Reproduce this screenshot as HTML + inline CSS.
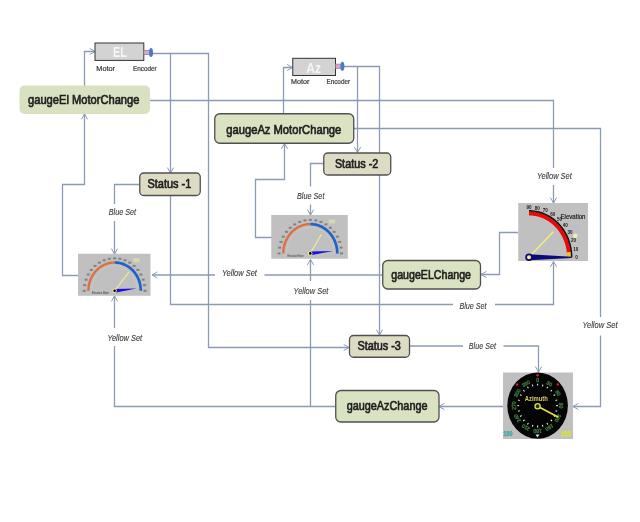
<!DOCTYPE html><html><head><meta charset="utf-8"><style>html,body{margin:0;padding:0;background:#fff;width:640px;height:522px;overflow:hidden}svg{display:block;will-change:transform;font-family:"Liberation Sans",sans-serif}</style></head><body>
<svg width="640" height="522" viewBox="0 0 640 522">
<path d="M151,53.5 L208.5,53.5 L208.5,347.5 L349,347.5" fill="none" stroke="#8a9bb5" stroke-width="1.3"/>
<path d="M343.63,350.60 L349,347.5 L343.63,344.40" fill="none" stroke="#8a9bb5" stroke-width="1"/>
<path d="M170.5,53.5 L170.5,173" fill="none" stroke="#8a9bb5" stroke-width="1.3"/>
<path d="M167.40,167.63 L170.5,173 L173.60,167.63" fill="none" stroke="#8a9bb5" stroke-width="1"/>
<path d="M170.5,196 L170.5,304.5 L553.5,304.5 L553.5,261.5" fill="none" stroke="#8a9bb5" stroke-width="1.3"/>
<path d="M556.60,266.87 L553.5,261.5 L550.40,266.87" fill="none" stroke="#8a9bb5" stroke-width="1"/>
<path d="M139,184.5 L114.5,184.5 L114.5,254" fill="none" stroke="#8a9bb5" stroke-width="1.3"/>
<path d="M111.40,248.63 L114.5,254 L117.60,248.63" fill="none" stroke="#8a9bb5" stroke-width="1"/>
<path d="M78,275.5 L62.5,275.5 L62.5,184.5 L84.5,184.5 L84.5,114" fill="none" stroke="#8a9bb5" stroke-width="1.3"/>
<path d="M87.60,119.37 L84.5,114 L81.40,119.37" fill="none" stroke="#8a9bb5" stroke-width="1"/>
<path d="M84.5,86 L84.5,51.5 L95,51.5" fill="none" stroke="#8a9bb5" stroke-width="1.3"/>
<path d="M89.63,54.60 L95,51.5 L89.63,48.40" fill="none" stroke="#8a9bb5" stroke-width="1"/>
<path d="M150,100.5 L553.5,100.5 L553.5,203" fill="none" stroke="#8a9bb5" stroke-width="1.3"/>
<path d="M550.40,197.63 L553.5,203 L556.60,197.63" fill="none" stroke="#8a9bb5" stroke-width="1"/>
<path d="M343,66.5 L379.5,66.5 L379.5,335" fill="none" stroke="#8a9bb5" stroke-width="1.3"/>
<path d="M376.40,329.63 L379.5,335 L382.60,329.63" fill="none" stroke="#8a9bb5" stroke-width="1"/>
<path d="M357.5,66.5 L357.5,152.5" fill="none" stroke="#8a9bb5" stroke-width="1.3"/>
<path d="M354.40,147.13 L357.5,152.5 L360.60,147.13" fill="none" stroke="#8a9bb5" stroke-width="1"/>
<path d="M283.5,114 L283.5,67.5 L292.5,67.5" fill="none" stroke="#8a9bb5" stroke-width="1.3"/>
<path d="M287.13,70.60 L292.5,67.5 L287.13,64.40" fill="none" stroke="#8a9bb5" stroke-width="1"/>
<path d="M354,128.5 L600.5,128.5 L600.5,406.5 L573,406.5" fill="none" stroke="#8a9bb5" stroke-width="1.3"/>
<path d="M578.37,403.40 L573,406.5 L578.37,409.60" fill="none" stroke="#8a9bb5" stroke-width="1"/>
<path d="M324,163.5 L310.5,163.5 L310.5,215" fill="none" stroke="#8a9bb5" stroke-width="1.3"/>
<path d="M307.40,209.63 L310.5,215 L313.60,209.63" fill="none" stroke="#8a9bb5" stroke-width="1"/>
<path d="M272,237.5 L255.5,237.5 L255.5,179.5 L284.5,179.5 L284.5,143.5" fill="none" stroke="#8a9bb5" stroke-width="1.3"/>
<path d="M287.60,148.87 L284.5,143.5 L281.40,148.87" fill="none" stroke="#8a9bb5" stroke-width="1"/>
<path d="M383,275 L152,275" fill="none" stroke="#8a9bb5" stroke-width="1.3"/>
<path d="M157.37,271.90 L152,275 L157.37,278.10" fill="none" stroke="#8a9bb5" stroke-width="1"/>
<path d="M518,232.5 L499.5,232.5 L499.5,274.5 L481,274.5" fill="none" stroke="#8a9bb5" stroke-width="1.3"/>
<path d="M486.37,271.40 L481,274.5 L486.37,277.60" fill="none" stroke="#8a9bb5" stroke-width="1"/>
<path d="M409.5,346 L538.5,346 L538.5,372" fill="none" stroke="#8a9bb5" stroke-width="1.3"/>
<path d="M535.40,366.63 L538.5,372 L541.60,366.63" fill="none" stroke="#8a9bb5" stroke-width="1"/>
<path d="M503,406.5 L439,406.5" fill="none" stroke="#8a9bb5" stroke-width="1.3"/>
<path d="M444.37,403.40 L439,406.5 L444.37,409.60" fill="none" stroke="#8a9bb5" stroke-width="1"/>
<path d="M335.5,406.5 L114.5,406.5 L114.5,296" fill="none" stroke="#8a9bb5" stroke-width="1.3"/>
<path d="M117.60,301.37 L114.5,296 L111.40,301.37" fill="none" stroke="#8a9bb5" stroke-width="1"/>
<path d="M310.5,406.5 L310.5,259.5" fill="none" stroke="#8a9bb5" stroke-width="1.3"/>
<path d="M313.60,264.87 L310.5,259.5 L307.40,264.87" fill="none" stroke="#8a9bb5" stroke-width="1"/>
<rect x="19.5" y="85.5" width="130.5" height="28.5" rx="5" fill="#d8e1c1"/>
<text x="28" y="103.8" font-size="12.3" fill="#1e1e1e" stroke="#1e1e1e" stroke-width="0.65" textLength="111.4" lengthAdjust="spacingAndGlyphs">gaugeEl MotorChange</text>
<rect x="214.75" y="113.75" width="139" height="29.5" rx="5" fill="#d9e2c1" stroke="#505050" stroke-width="1.3"/>
<text x="226.3" y="133.6" font-size="12.3" fill="#1e1e1e" stroke="#1e1e1e" stroke-width="0.65" textLength="115" lengthAdjust="spacingAndGlyphs">gaugeAz MotorChange</text>
<rect x="139.75" y="173" width="60.5" height="22.5" rx="4" fill="#dedbc5" stroke="#505050" stroke-width="1.3"/>
<text x="147.5" y="188" font-size="12.3" fill="#1e1e1e" stroke="#1e1e1e" stroke-width="0.65" textLength="43.8" lengthAdjust="spacingAndGlyphs">Status -1</text>
<rect x="323.75" y="153" width="67" height="22" rx="4" fill="#dedbc5" stroke="#505050" stroke-width="1.3"/>
<text x="334.9" y="167.8" font-size="12.3" fill="#1e1e1e" stroke="#1e1e1e" stroke-width="0.65" textLength="43.4" lengthAdjust="spacingAndGlyphs">Status -2</text>
<rect x="349.5" y="335.5" width="60" height="21.75" rx="4" fill="#dedbc5" stroke="#505050" stroke-width="1.3"/>
<text x="357.5" y="350" font-size="12.3" fill="#1e1e1e" stroke="#1e1e1e" stroke-width="0.65" textLength="43.4" lengthAdjust="spacingAndGlyphs">Status -3</text>
<rect x="382.75" y="260.5" width="97.75" height="28.5" rx="5" fill="#d9e2c1" stroke="#505050" stroke-width="1.3"/>
<text x="391.3" y="278.6" font-size="12.3" fill="#1e1e1e" stroke="#1e1e1e" stroke-width="0.65" textLength="79.7" lengthAdjust="spacingAndGlyphs">gaugeELChange</text>
<rect x="335.75" y="390.5" width="103.25" height="31.5" rx="5" fill="#d9e2c1" stroke="#505050" stroke-width="1.3"/>
<text x="346.7" y="410.3" font-size="12.3" fill="#1e1e1e" stroke="#1e1e1e" stroke-width="0.65" textLength="80.8" lengthAdjust="spacingAndGlyphs">gaugeAzChange</text>
<rect x="95" y="43" width="48.8" height="17.4" fill="#d3d3d3" stroke="#333" stroke-width="1"/>
<text x="113" y="56.8" font-size="14" font-weight="bold" fill="#f6f6f6" textLength="13.7" lengthAdjust="spacingAndGlyphs">EL</text>
<rect x="143.8" y="50.3" width="7.200000000000003" height="4.4" fill="#d8a8c4" stroke="#8a6a9a" stroke-width="0.6"/>
<ellipse cx="151" cy="52.5" rx="2" ry="4.6" fill="#4a7cc4"/>
<text x="96.3" y="70.8" font-size="6.5" fill="#3a3a3a" stroke="#3a3a3a" stroke-width="0.2" textLength="18.7" lengthAdjust="spacingAndGlyphs">Motor</text>
<text x="132.9" y="70.8" font-size="6.5" fill="#3a3a3a" stroke="#3a3a3a" stroke-width="0.2" textLength="23.8" lengthAdjust="spacingAndGlyphs">Encoder</text>
<rect x="292.75" y="58.3" width="42.75" height="17.2" fill="#d3d3d3" stroke="#333" stroke-width="1"/>
<text x="306.3" y="72.6" font-size="14" font-weight="bold" fill="#f6f6f6" textLength="14.8" lengthAdjust="spacingAndGlyphs">Az</text>
<rect x="335.5" y="64.1" width="6.899999999999977" height="4.4" fill="#d8a8c4" stroke="#8a6a9a" stroke-width="0.6"/>
<ellipse cx="342.4" cy="66.3" rx="2" ry="4.6" fill="#4a7cc4"/>
<text x="291" y="83.7" font-size="6.5" fill="#3a3a3a" stroke="#3a3a3a" stroke-width="0.2" textLength="18.3" lengthAdjust="spacingAndGlyphs">Motor</text>
<text x="326.4" y="83.7" font-size="6.5" fill="#3a3a3a" stroke="#3a3a3a" stroke-width="0.2" textLength="23.7" lengthAdjust="spacingAndGlyphs">Encoder</text>
<rect x="78" y="253.75" width="72.5" height="42.0" fill="#c0c0c0"/>
<rect x="82.70" y="289.80" width="3" height="2" fill="#6e6e6e" opacity="0.75"/>
<rect x="83.16" y="284.16" width="3" height="2" fill="#6e6e6e" opacity="0.75"/>
<rect x="84.53" y="278.68" width="3" height="2" fill="#6e6e6e" opacity="0.75"/>
<rect x="86.77" y="273.55" width="3" height="2" fill="#6e6e6e" opacity="0.75"/>
<rect x="89.81" y="268.91" width="3" height="2" fill="#6e6e6e" opacity="0.75"/>
<rect x="93.56" y="264.90" width="3" height="2" fill="#6e6e6e" opacity="0.75"/>
<rect x="97.90" y="261.65" width="3" height="2" fill="#6e6e6e" opacity="0.75"/>
<rect x="102.70" y="259.26" width="3" height="2" fill="#6e6e6e" opacity="0.75"/>
<rect x="107.82" y="257.79" width="3" height="2" fill="#6e6e6e" opacity="0.75"/>
<rect x="113.10" y="257.30" width="3" height="2" fill="#6e6e6e" opacity="0.75"/>
<rect x="118.38" y="257.79" width="3" height="2" fill="#6e6e6e" opacity="0.75"/>
<rect x="123.50" y="259.26" width="3" height="2" fill="#6e6e6e" opacity="0.75"/>
<rect x="128.30" y="261.65" width="3" height="2" fill="#6e6e6e" opacity="0.75"/>
<rect x="132.64" y="264.90" width="3" height="2" fill="#6e6e6e" opacity="0.75"/>
<rect x="136.39" y="268.91" width="3" height="2" fill="#6e6e6e" opacity="0.75"/>
<rect x="139.43" y="273.55" width="3" height="2" fill="#6e6e6e" opacity="0.75"/>
<rect x="141.67" y="278.68" width="3" height="2" fill="#6e6e6e" opacity="0.75"/>
<rect x="143.04" y="284.16" width="3" height="2" fill="#6e6e6e" opacity="0.75"/>
<rect x="143.50" y="289.80" width="3" height="2" fill="#6e6e6e" opacity="0.75"/>
<path d="M88.40,290.80 L88.42,289.69 L88.48,288.58 L88.58,287.47 L88.72,286.37 L88.90,285.28 L89.12,284.19 L89.38,283.12 L89.68,282.05 L90.02,281.00 L90.39,279.97 L90.81,278.95 L91.26,277.95 L91.74,276.97 L92.26,276.01 L92.82,275.08 L93.40,274.17 L94.02,273.28 L94.68,272.42 L95.36,271.59 L96.07,270.79 L96.82,270.02 L97.58,269.28 L98.38,268.58 L99.20,267.90 L100.04,267.27 L100.91,266.67 L101.80,266.11 L102.71,265.58 L103.63,265.10 L104.57,264.65 L105.53,264.25 L106.50,263.89 L107.49,263.56 L108.48,263.28 L109.49,263.04 L110.50,262.85 L111.52,262.70 L112.54,262.59 L113.57,262.52 L114.60,262.50" fill="none" stroke="#dd7043" stroke-width="2.4"/>
<path d="M114.60,262.50 L115.63,262.52 L116.66,262.59 L117.68,262.70 L118.70,262.85 L119.71,263.04 L120.72,263.28 L121.71,263.56 L122.70,263.89 L123.67,264.25 L124.63,264.65 L125.57,265.10 L126.49,265.58 L127.40,266.11 L128.29,266.67 L129.16,267.27 L130.00,267.90 L130.82,268.58 L131.62,269.28 L132.38,270.02 L133.13,270.79 L133.84,271.59 L134.52,272.42 L135.18,273.28 L135.80,274.17 L136.38,275.08 L136.94,276.01 L137.46,276.97 L137.94,277.95 L138.39,278.95 L138.81,279.97 L139.18,281.00 L139.52,282.05 L139.82,283.12 L140.08,284.19 L140.30,285.28 L140.48,286.37 L140.62,287.47 L140.72,288.58 L140.78,289.69 L140.80,290.80" fill="none" stroke="#1f62c8" stroke-width="2.7"/>
<rect x="133.1" y="258.25" width="6.5" height="4" fill="#dcdab0" opacity="0.8"/>
<path d="M91.90,290.80 L91.97,288.85 L92.18,286.92 L92.53,285.01 L93.01,283.14 L93.63,281.31 L94.37,279.54 L95.25,277.84 L96.24,276.22 L97.34,274.69 L98.55,273.26 L99.86,271.94 L101.26,270.74 L102.74,269.65 L104.29,268.70 L105.91,267.89 L107.59,267.21 L109.30,266.69 L111.05,266.31 L112.82,266.08 L114.60,266.00 L116.38,266.08 L118.15,266.31 L119.90,266.69 L121.61,267.21 L123.29,267.89 L124.91,268.70 L126.46,269.65 L127.94,270.74 L129.34,271.94 L130.65,273.26 L131.86,274.69 L132.96,276.22 L133.95,277.84 L134.83,279.54 L135.57,281.31 L136.19,283.14 L136.67,285.01 L137.02,286.92 L137.23,288.85 L137.30,290.80" fill="none" stroke="#d8d0b8" stroke-width="0.8" opacity="0.6"/>
<line x1="114.6" y1="290.8" x2="129" y2="271.8" stroke="#ecea98" stroke-width="1.1"/>
<path d="M114.79,292.69 L136.5,288.6 L114.41,288.91 Z" fill="#1a10d8"/>
<circle cx="114.6" cy="290.8" r="2.2" fill="#f4f0a0"/>
<circle cx="114.6" cy="290.8" r="1.3" fill="#000"/>
<text x="92" y="294.40000000000003" font-size="3.6" fill="#333" textLength="17" lengthAdjust="spacingAndGlyphs">Elevation Motor</text>
<rect x="271.25" y="215" width="76.5" height="43.75" fill="#c0c0c0"/>
<rect x="277.60" y="252.40" width="3" height="2" fill="#6e6e6e" opacity="0.75"/>
<rect x="278.07" y="246.58" width="3" height="2" fill="#6e6e6e" opacity="0.75"/>
<rect x="279.48" y="240.94" width="3" height="2" fill="#6e6e6e" opacity="0.75"/>
<rect x="281.78" y="235.65" width="3" height="2" fill="#6e6e6e" opacity="0.75"/>
<rect x="284.90" y="230.87" width="3" height="2" fill="#6e6e6e" opacity="0.75"/>
<rect x="288.75" y="226.74" width="3" height="2" fill="#6e6e6e" opacity="0.75"/>
<rect x="293.20" y="223.39" width="3" height="2" fill="#6e6e6e" opacity="0.75"/>
<rect x="298.13" y="220.92" width="3" height="2" fill="#6e6e6e" opacity="0.75"/>
<rect x="303.38" y="219.41" width="3" height="2" fill="#6e6e6e" opacity="0.75"/>
<rect x="308.80" y="218.90" width="3" height="2" fill="#6e6e6e" opacity="0.75"/>
<rect x="314.22" y="219.41" width="3" height="2" fill="#6e6e6e" opacity="0.75"/>
<rect x="319.47" y="220.92" width="3" height="2" fill="#6e6e6e" opacity="0.75"/>
<rect x="324.40" y="223.39" width="3" height="2" fill="#6e6e6e" opacity="0.75"/>
<rect x="328.85" y="226.74" width="3" height="2" fill="#6e6e6e" opacity="0.75"/>
<rect x="332.70" y="230.87" width="3" height="2" fill="#6e6e6e" opacity="0.75"/>
<rect x="335.82" y="235.65" width="3" height="2" fill="#6e6e6e" opacity="0.75"/>
<rect x="338.12" y="240.94" width="3" height="2" fill="#6e6e6e" opacity="0.75"/>
<rect x="339.53" y="246.58" width="3" height="2" fill="#6e6e6e" opacity="0.75"/>
<rect x="340.00" y="252.40" width="3" height="2" fill="#6e6e6e" opacity="0.75"/>
<path d="M283.30,253.40 L283.32,252.25 L283.38,251.10 L283.49,249.96 L283.63,248.82 L283.82,247.68 L284.05,246.56 L284.31,245.45 L284.62,244.35 L284.97,243.26 L285.36,242.19 L285.78,241.13 L286.24,240.10 L286.74,239.08 L287.28,238.09 L287.85,237.12 L288.46,236.18 L289.10,235.26 L289.77,234.37 L290.47,233.51 L291.21,232.68 L291.97,231.88 L292.76,231.12 L293.58,230.39 L294.43,229.70 L295.30,229.04 L296.19,228.42 L297.11,227.84 L298.04,227.29 L299.00,226.79 L299.97,226.33 L300.95,225.91 L301.96,225.53 L302.97,225.20 L304.00,224.91 L305.03,224.66 L306.08,224.46 L307.13,224.30 L308.18,224.19 L309.24,224.12 L310.30,224.10" fill="none" stroke="#dd7043" stroke-width="2.4"/>
<path d="M310.30,224.10 L311.36,224.12 L312.42,224.19 L313.47,224.30 L314.52,224.46 L315.57,224.66 L316.60,224.91 L317.63,225.20 L318.64,225.53 L319.65,225.91 L320.63,226.33 L321.60,226.79 L322.56,227.29 L323.49,227.84 L324.41,228.42 L325.30,229.04 L326.17,229.70 L327.02,230.39 L327.84,231.12 L328.63,231.88 L329.39,232.68 L330.13,233.51 L330.83,234.37 L331.50,235.26 L332.14,236.18 L332.75,237.12 L333.32,238.09 L333.86,239.08 L334.36,240.10 L334.82,241.13 L335.24,242.19 L335.63,243.26 L335.98,244.35 L336.29,245.45 L336.55,246.56 L336.78,247.68 L336.97,248.82 L337.11,249.96 L337.22,251.10 L337.28,252.25 L337.30,253.40" fill="none" stroke="#1f62c8" stroke-width="2.7"/>
<rect x="328.8" y="219.5" width="6.5" height="4" fill="#dcdab0" opacity="0.8"/>
<path d="M286.80,253.40 L286.87,251.38 L287.09,249.36 L287.45,247.38 L287.95,245.43 L288.59,243.53 L289.36,241.69 L290.26,239.92 L291.29,238.24 L292.43,236.64 L293.68,235.16 L295.04,233.78 L296.49,232.53 L298.02,231.40 L299.63,230.41 L301.31,229.56 L303.04,228.86 L304.81,228.31 L306.62,227.92 L308.46,227.68 L310.30,227.60 L312.14,227.68 L313.98,227.92 L315.79,228.31 L317.56,228.86 L319.29,229.56 L320.97,230.41 L322.58,231.40 L324.11,232.53 L325.56,233.78 L326.92,235.16 L328.17,236.64 L329.31,238.24 L330.34,239.92 L331.24,241.69 L332.01,243.53 L332.65,245.43 L333.15,247.38 L333.51,249.36 L333.73,251.38 L333.80,253.40" fill="none" stroke="#d8d0b8" stroke-width="0.8" opacity="0.6"/>
<line x1="310.3" y1="253.4" x2="321.3" y2="234.4" stroke="#ecea98" stroke-width="1.1"/>
<path d="M310.50,255.29 L333,251 L310.10,251.51 Z" fill="#1a10d8"/>
<circle cx="310.3" cy="253.4" r="2.2" fill="#f4f0a0"/>
<circle cx="310.3" cy="253.4" r="1.3" fill="#000"/>
<text x="287.5" y="257.0" font-size="3.6" fill="#333" textLength="16" lengthAdjust="spacingAndGlyphs">Elevation Motor</text>
<rect x="518.25" y="203" width="69.75" height="58" fill="#c0c0c0"/>
<path d="M529.00,213.30 L530.58,213.33 L532.15,213.44 L533.73,213.60 L535.29,213.84 L536.84,214.15 L538.38,214.52 L539.91,214.95 L541.42,215.45 L542.91,216.02 L544.38,216.65 L545.83,217.34 L547.25,218.10 L548.64,218.91 L550.00,219.78 L551.33,220.72 L552.63,221.70 L553.89,222.75 L555.11,223.84 L556.29,224.99 L557.43,226.19 L558.52,227.43 L559.57,228.72 L560.57,230.06 L561.52,231.44 L562.43,232.85 L563.28,234.31 L564.07,235.80 L564.82,237.32 L565.51,238.88 L566.14,240.46 L566.72,242.07 L567.23,243.70 L567.69,245.36 L568.09,247.03 L568.43,248.72 L568.71,250.42 L568.92,252.13 L569.08,253.85 L569.17,255.57 L569.20,257.30" fill="none" stroke="#e80a0a" stroke-width="4.2"/>
<path d="M568.90,251.94 L569.03,253.27 L569.13,254.61 L569.18,255.96 L569.20,257.30" fill="none" stroke="#f0c020" stroke-width="4.2"/>
<path d="M529.00,210.80 L530.68,210.84 L532.35,210.94 L534.02,211.12 L535.68,211.37 L537.33,211.69 L538.97,212.08 L540.59,212.55 L542.20,213.08 L543.78,213.67 L545.34,214.34 L546.88,215.07 L548.39,215.87 L549.86,216.73 L551.31,217.65 L552.72,218.64 L554.10,219.68 L555.44,220.78 L556.73,221.94 L557.98,223.15 L559.19,224.42 L560.36,225.74 L561.47,227.10 L562.53,228.51 L563.55,229.97 L564.50,231.47 L565.41,233.00 L566.26,234.58 L567.05,236.19 L567.78,237.83 L568.45,239.51 L569.06,241.21 L569.61,242.93 L570.10,244.68 L570.52,246.44 L570.88,248.23 L571.17,250.03 L571.40,251.83 L571.57,253.65 L571.67,255.47 L571.70,257.30" fill="none" stroke="#111" stroke-width="1.5"/>
<text x="529.00" y="208.80" font-size="4.6" font-weight="bold" fill="#222" text-anchor="middle">90</text>
<text x="537.25" y="209.57" font-size="4.6" font-weight="bold" fill="#222" text-anchor="middle">80</text>
<text x="545.25" y="211.85" font-size="4.6" font-weight="bold" fill="#222" text-anchor="middle">70</text>
<text x="552.75" y="215.57" font-size="4.6" font-weight="bold" fill="#222" text-anchor="middle">60</text>
<text x="559.53" y="220.61" font-size="4.6" font-weight="bold" fill="#222" text-anchor="middle">50</text>
<text x="565.39" y="226.84" font-size="4.6" font-weight="bold" fill="#222" text-anchor="middle">40</text>
<text x="570.14" y="234.05" font-size="4.6" font-weight="bold" fill="#222" text-anchor="middle">30</text>
<text x="573.64" y="242.03" font-size="4.6" font-weight="bold" fill="#222" text-anchor="middle">20</text>
<text x="575.78" y="250.53" font-size="4.6" font-weight="bold" fill="#222" text-anchor="middle">10</text>
<text x="576.50" y="259.30" font-size="4.6" font-weight="bold" fill="#222" text-anchor="middle">0</text>
<text x="560.5" y="219" font-size="7.2" fill="#111" stroke="#111" stroke-width="0.15" textLength="25" lengthAdjust="spacingAndGlyphs">Elevation</text>
<circle cx="576" cy="226.7" r="2" fill="#a8c0d8" opacity="0.8"/>
<circle cx="575.2" cy="235.8" r="2.2" fill="#f0f0a0"/>
<line x1="529" y1="257.3" x2="553.5" y2="231.5" stroke="#f2f07a" stroke-width="1.4"/>
<path d="M529,254.3 L571.5,256.7 L571.5,257.90000000000003 L529,260.3 Z" fill="#0a0a78"/>
<circle cx="529" cy="257.3" r="2.9" fill="#f4f080" stroke="#0a0a78" stroke-width="1.7"/>
<rect x="503" y="372.5" width="70" height="66.5" fill="#c0c0c0"/>
<ellipse cx="537.6" cy="405.6" rx="30.3" ry="33.2" fill="#050505"/>
<line x1="537.60" y1="385.60" x2="537.60" y2="383.80" stroke="#e8f0e0" stroke-width="1.1"/>
<line x1="542.39" y1="386.28" x2="542.85" y2="384.54" stroke="#e8f0e0" stroke-width="1.1"/>
<line x1="546.85" y1="388.28" x2="547.75" y2="386.72" stroke="#e8f0e0" stroke-width="1.1"/>
<line x1="550.68" y1="391.46" x2="551.95" y2="390.19" stroke="#e8f0e0" stroke-width="1.1"/>
<line x1="553.62" y1="395.60" x2="555.18" y2="394.70" stroke="#e8f0e0" stroke-width="1.1"/>
<line x1="555.47" y1="400.42" x2="557.21" y2="399.96" stroke="#e8f0e0" stroke-width="1.1"/>
<line x1="556.10" y1="405.60" x2="557.90" y2="405.60" stroke="#e8f0e0" stroke-width="1.1"/>
<line x1="555.47" y1="410.78" x2="557.21" y2="411.24" stroke="#e8f0e0" stroke-width="1.1"/>
<line x1="553.62" y1="415.60" x2="555.18" y2="416.50" stroke="#e8f0e0" stroke-width="1.1"/>
<line x1="550.68" y1="419.74" x2="551.95" y2="421.01" stroke="#e8f0e0" stroke-width="1.1"/>
<line x1="546.85" y1="422.92" x2="547.75" y2="424.48" stroke="#e8f0e0" stroke-width="1.1"/>
<line x1="542.39" y1="424.92" x2="542.85" y2="426.66" stroke="#e8f0e0" stroke-width="1.1"/>
<line x1="537.60" y1="425.60" x2="537.60" y2="427.40" stroke="#e8f0e0" stroke-width="1.1"/>
<line x1="532.81" y1="424.92" x2="532.35" y2="426.66" stroke="#e8f0e0" stroke-width="1.1"/>
<line x1="528.35" y1="422.92" x2="527.45" y2="424.48" stroke="#e8f0e0" stroke-width="1.1"/>
<line x1="524.52" y1="419.74" x2="523.25" y2="421.01" stroke="#e8f0e0" stroke-width="1.1"/>
<line x1="521.58" y1="415.60" x2="520.02" y2="416.50" stroke="#e8f0e0" stroke-width="1.1"/>
<line x1="519.73" y1="410.78" x2="517.99" y2="411.24" stroke="#e8f0e0" stroke-width="1.1"/>
<line x1="519.10" y1="405.60" x2="517.30" y2="405.60" stroke="#e8f0e0" stroke-width="1.1"/>
<line x1="519.73" y1="400.42" x2="517.99" y2="399.96" stroke="#e8f0e0" stroke-width="1.1"/>
<line x1="521.58" y1="395.60" x2="520.02" y2="394.70" stroke="#e8f0e0" stroke-width="1.1"/>
<line x1="524.52" y1="391.46" x2="523.25" y2="390.19" stroke="#e8f0e0" stroke-width="1.1"/>
<line x1="528.35" y1="388.28" x2="527.45" y2="386.72" stroke="#e8f0e0" stroke-width="1.1"/>
<line x1="532.81" y1="386.28" x2="532.35" y2="384.54" stroke="#e8f0e0" stroke-width="1.1"/>
<text x="537.60" y="382.10" font-size="5" fill="#1c2c1c" stroke="#3a6a3c" stroke-width="0.6" text-anchor="middle" transform="rotate(0 537.60 380.30)">0</text>
<text x="549.35" y="385.49" font-size="5" fill="#1c2c1c" stroke="#3a6a3c" stroke-width="0.6" text-anchor="middle" transform="rotate(30 549.35 383.69)">30</text>
<text x="557.95" y="394.75" font-size="5" fill="#1c2c1c" stroke="#3a6a3c" stroke-width="0.6" text-anchor="middle" transform="rotate(60 557.95 392.95)">60</text>
<text x="561.10" y="407.40" font-size="5" fill="#1c2c1c" stroke="#3a6a3c" stroke-width="0.6" text-anchor="middle" transform="rotate(90 561.10 405.60)">90</text>
<text x="557.95" y="420.05" font-size="5" fill="#1c2c1c" stroke="#3a6a3c" stroke-width="0.6" text-anchor="middle" transform="rotate(120 557.95 418.25)">120</text>
<text x="549.35" y="429.31" font-size="5" fill="#1c2c1c" stroke="#3a6a3c" stroke-width="0.6" text-anchor="middle" transform="rotate(150 549.35 427.51)">150</text>
<text x="537.60" y="432.70" font-size="5" fill="#1c2c1c" stroke="#3a6a3c" stroke-width="0.6" text-anchor="middle" transform="rotate(180 537.60 430.90)">180</text>
<text x="525.85" y="429.31" font-size="5" fill="#1c2c1c" stroke="#3a6a3c" stroke-width="0.6" text-anchor="middle" transform="rotate(210 525.85 427.51)">210</text>
<text x="517.25" y="420.05" font-size="5" fill="#1c2c1c" stroke="#3a6a3c" stroke-width="0.6" text-anchor="middle" transform="rotate(240 517.25 418.25)">240</text>
<text x="514.10" y="407.40" font-size="5" fill="#1c2c1c" stroke="#3a6a3c" stroke-width="0.6" text-anchor="middle" transform="rotate(270 514.10 405.60)">270</text>
<text x="517.25" y="394.75" font-size="5" fill="#1c2c1c" stroke="#3a6a3c" stroke-width="0.6" text-anchor="middle" transform="rotate(300 517.25 392.95)">300</text>
<text x="525.85" y="385.49" font-size="5" fill="#1c2c1c" stroke="#3a6a3c" stroke-width="0.6" text-anchor="middle" transform="rotate(330 525.85 383.69)">330</text>
<circle cx="537.5" cy="375.3" r="1.2" fill="#e02020"/>
<circle cx="517" cy="384.4" r="1.2" fill="#e02020"/>
<circle cx="557.8" cy="384.4" r="1.2" fill="#e02020"/>
<text x="524.8" y="400.5" font-size="7" font-weight="bold" fill="#d8c870" textLength="23" lengthAdjust="spacingAndGlyphs">Azimuth</text>
<line x1="537.6" y1="406.20000000000005" x2="558.5" y2="417.3" stroke="#e8e040" stroke-width="1.6"/>
<circle cx="537.6" cy="406.20000000000005" r="2.6" fill="#0a3a30" stroke="#e8e040" stroke-width="1.3"/>
<text x="503.5" y="436" font-size="6.5" font-weight="bold" fill="#50a8a8" stroke="#50a8a8" stroke-width="0.6" textLength="9" lengthAdjust="spacingAndGlyphs">180</text>
<text x="561" y="436" font-size="6.5" font-weight="bold" fill="#d8e040" stroke="#d8e040" stroke-width="0.6" textLength="10" lengthAdjust="spacingAndGlyphs">110</text>
<path d="M535.5,434.5 L539.5,434.5 L537.5,437.5 Z" fill="#c0f0f0"/>
<rect x="105" y="204" width="35" height="17" fill="#fff"/>
<text x="108.7" y="215.4" font-size="9.2" font-style="italic" fill="#383838" stroke="#383838" stroke-width="0.1" textLength="27.39999999999999" lengthAdjust="spacingAndGlyphs">Blue Set</text>
<rect x="294" y="186.5" width="34" height="18.0" fill="#fff"/>
<text x="297" y="198.75" font-size="9.2" font-style="italic" fill="#383838" stroke="#383838" stroke-width="0.1" textLength="27.399999999999977" lengthAdjust="spacingAndGlyphs">Blue Set</text>
<rect x="215" y="266" width="49.5" height="16" fill="#fff"/>
<text x="222" y="275.8" font-size="9.2" font-style="italic" fill="#383838" stroke="#383838" stroke-width="0.1" textLength="34.89999999999998" lengthAdjust="spacingAndGlyphs">Yellow Set</text>
<rect x="290" y="281" width="42" height="19" fill="#fff"/>
<text x="293.6" y="293.9" font-size="9.2" font-style="italic" fill="#383838" stroke="#383838" stroke-width="0.1" textLength="34.799999999999955" lengthAdjust="spacingAndGlyphs">Yellow Set</text>
<rect x="104" y="328" width="42" height="18" fill="#fff"/>
<text x="107.4" y="340.7" font-size="9.2" font-style="italic" fill="#383838" stroke="#383838" stroke-width="0.1" textLength="34.79999999999998" lengthAdjust="spacingAndGlyphs">Yellow Set</text>
<rect x="534" y="168" width="41" height="17" fill="#fff"/>
<text x="537" y="178.75" font-size="9.2" font-style="italic" fill="#383838" stroke="#383838" stroke-width="0.1" textLength="34.799999999999955" lengthAdjust="spacingAndGlyphs">Yellow Set</text>
<rect x="579" y="317" width="42" height="18.5" fill="#fff"/>
<text x="582.4" y="328" font-size="9.2" font-style="italic" fill="#383838" stroke="#383838" stroke-width="0.1" textLength="35.200000000000045" lengthAdjust="spacingAndGlyphs">Yellow Set</text>
<rect x="453" y="297" width="42" height="15" fill="#fff"/>
<text x="459.4" y="308.8" font-size="9.2" font-style="italic" fill="#383838" stroke="#383838" stroke-width="0.1" textLength="27.100000000000023" lengthAdjust="spacingAndGlyphs">Blue Set</text>
<rect x="463" y="339" width="40.5" height="14" fill="#fff"/>
<text x="468.8" y="349" font-size="9.2" font-style="italic" fill="#383838" stroke="#383838" stroke-width="0.1" textLength="27.099999999999966" lengthAdjust="spacingAndGlyphs">Blue Set</text>
</svg></body></html>
